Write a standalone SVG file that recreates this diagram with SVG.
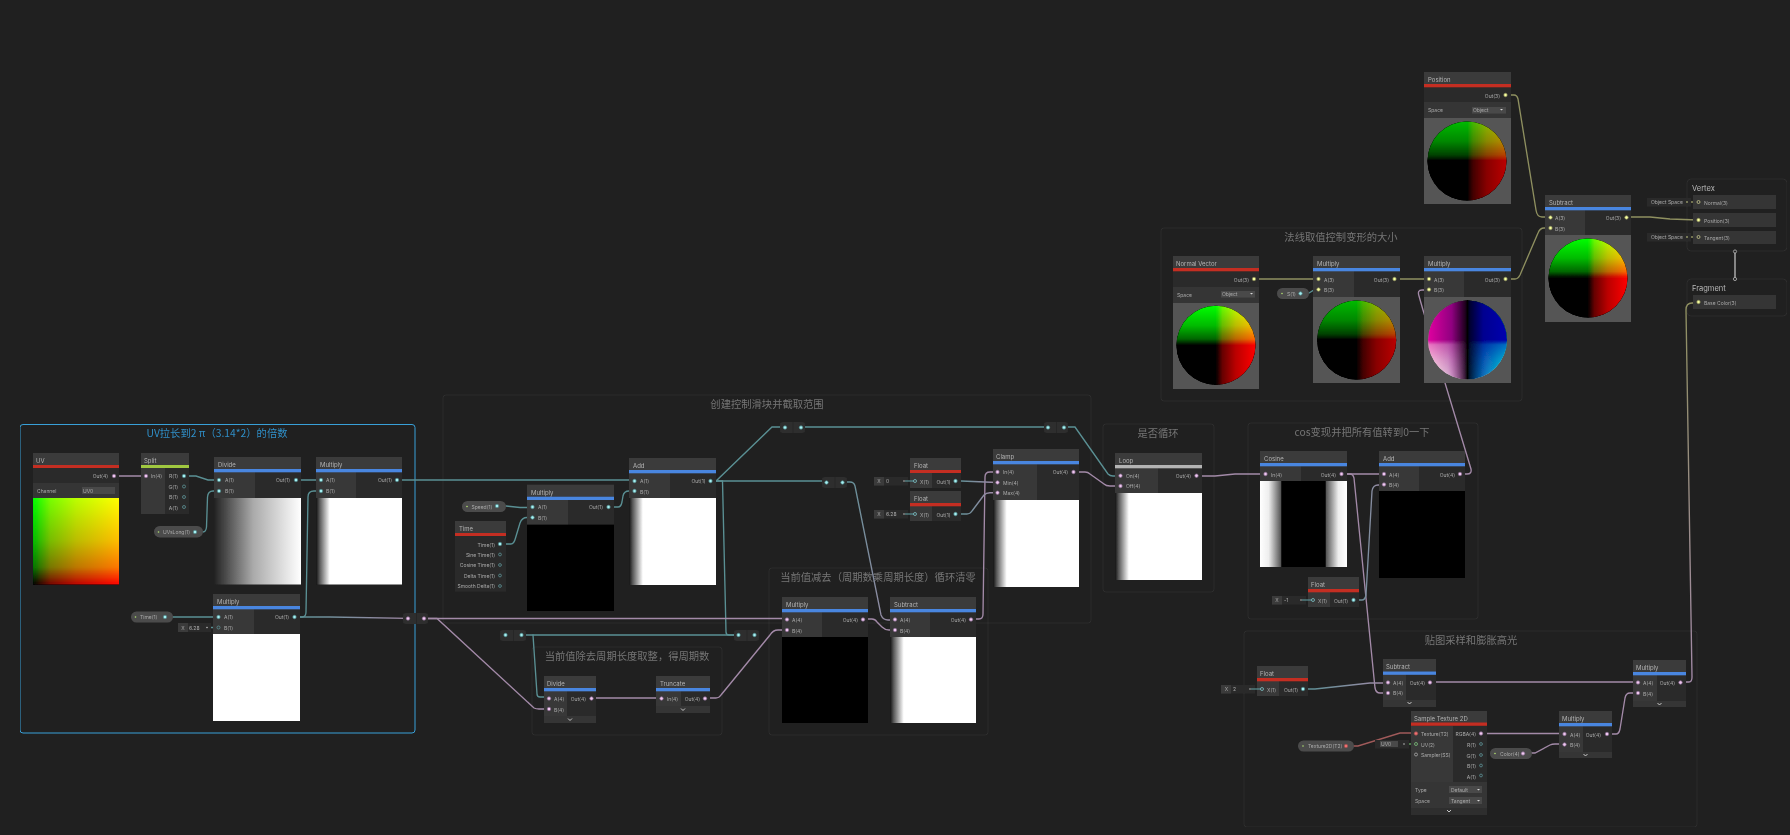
<svg xmlns="http://www.w3.org/2000/svg" width="1790" height="835" viewBox="0 0 1790 835">
<style>
text{font-family:Inter,"Liberation Sans","Noto Sans CJK SC",sans-serif;font-size:5px;fill:#a8a8a8}
.ti{font-size:6px;fill:#b4b4b4}
.gt{font-family:"Noto Sans CJK SC","Liberation Sans",sans-serif;font-size:10.3px;fill:#757575;text-anchor:middle}
.e{text-anchor:end}
.m{text-anchor:middle}
.st{font-size:7.5px;fill:#b8b8b8}
.g{fill:none;stroke:#2e2e2e;stroke-width:1}
.b{fill:#2c2c2c}.h{fill:#3a3a3a}.l{fill:#393939}.r{fill:#2e2e2e}.c{fill:#343434}
.bb{fill:#4a86e0}.br{fill:#c42d20}.bg{fill:#a0c840}.bw{fill:#b4b4b4}
.pl{fill:#4c4c4c}.dd{fill:#4a4a4a}.ib{fill:#2c2c2c}.ic{fill:#3a3a3a}
.pv{fill:#555}.w{fill:#fff}.k{fill:#000}
.p{stroke-width:.7}
.pt{fill:#a6f0f2;stroke:#4f8a8c}.pp{fill:#f0c8f0;stroke:#8e6f96}.po{fill:#f6ffa0;stroke:#8c8c57}.pr{fill:#f07070;stroke:#a05050}.pg{fill:#c0ffc0;stroke:#5a9a5a}
.o{fill:none;stroke-width:.8}
.x{fill:none;stroke:#d8d8d8;stroke-width:.9}
.d{fill:#d8d8d8}
#connectors path{fill:none;stroke-width:1.35;stroke-linecap:round}
.T{stroke:#5a9094}.P{stroke:#a38aa8}.O{stroke:#8f9060}.R{stroke:#a05a5a}.G{stroke:#5c9a5c}.W{stroke:#b8b8b8}
</style>
<defs>
<filter id="soft" x="0" y="0" width="1" height="1"><feGaussianBlur stdDeviation=".3"/></filter>
<linearGradient id="tp"><stop offset="0" stop-color="#5a9094"/><stop offset="1" stop-color="#a38aa8"/></linearGradient>
<linearGradient id="po" x1="0" y1="1" x2="0" y2="0"><stop offset="0" stop-color="#a38aa8"/><stop offset="1" stop-color="#8f9060"/></linearGradient>
<linearGradient id="edge"><stop offset="0" stop-color="#111"/><stop offset=".04" stop-color="#555"/><stop offset=".16" stop-color="#fff"/></linearGradient>
<linearGradient id="full"><stop offset="0" stop-color="#222"/><stop offset=".45" stop-color="#aaa"/><stop offset="1" stop-color="#fff"/></linearGradient>
<linearGradient id="cosg"><stop offset="0" stop-color="#fff"/><stop offset=".1" stop-color="#eee"/><stop offset=".24" stop-color="#555"/><stop offset=".25" stop-color="#000"/><stop offset=".75" stop-color="#000"/><stop offset=".76" stop-color="#555"/><stop offset=".9" stop-color="#eee"/><stop offset="1" stop-color="#fff"/></linearGradient>
<linearGradient id="uvg" x1="0" y1="0" x2="0" y2="1"><stop offset="0" stop-color="#0f0"/><stop offset=".5" stop-color="#0b0"/><stop offset=".8" stop-color="#070"/><stop offset="1" stop-color="#000"/></linearGradient>
<linearGradient id="uvr"><stop offset="0" stop-color="#000"/><stop offset=".2" stop-color="#700"/><stop offset=".5" stop-color="#b00"/><stop offset="1" stop-color="#f00"/></linearGradient>
<linearGradient id="sg" x1="0" y1="0" x2="0" y2="1"><stop offset="0" stop-color="#0f0"/><stop offset=".25" stop-color="#0b0"/><stop offset=".42" stop-color="#060"/><stop offset=".5" stop-color="#000"/></linearGradient>
<linearGradient id="sr"><stop offset=".5" stop-color="#000"/><stop offset=".58" stop-color="#600"/><stop offset=".75" stop-color="#b00"/><stop offset="1" stop-color="#f00"/></linearGradient>
<linearGradient id="sgd" x1="0" y1="0" x2="0" y2="1"><stop offset="0" stop-color="#0b0"/><stop offset=".25" stop-color="#080"/><stop offset=".42" stop-color="#040"/><stop offset=".5" stop-color="#000"/></linearGradient>
<linearGradient id="srd"><stop offset=".5" stop-color="#000"/><stop offset=".58" stop-color="#400"/><stop offset=".75" stop-color="#800"/><stop offset="1" stop-color="#b00"/></linearGradient>
<linearGradient id="ph"><stop offset="0" stop-color="#e000a0"/><stop offset=".3" stop-color="#900080"/><stop offset=".47" stop-color="#200020"/><stop offset=".5" stop-color="#000"/><stop offset=".53" stop-color="#000030"/><stop offset=".7" stop-color="#000090"/><stop offset="1" stop-color="#0000b0"/></linearGradient>
<linearGradient id="pv2" x1="0" y1="0" x2="0" y2="1"><stop offset=".5" stop-color="#000"/><stop offset=".56" stop-color="#777"/><stop offset=".75" stop-color="#bbb"/><stop offset="1" stop-color="#fff"/></linearGradient>
<linearGradient id="ph2"><stop offset="0" stop-color="#e8ffd0"/><stop offset=".25" stop-color="#a8b8a8"/><stop offset=".46" stop-color="#222"/><stop offset=".5" stop-color="#000"/><stop offset=".54" stop-color="#021"/><stop offset=".75" stop-color="#0a8a78"/><stop offset="1" stop-color="#00f090"/></linearGradient>
<g id="sB" style="isolation:isolate"><circle r="39.5" fill="#000"/><circle r="39.5" fill="url(#sg)"/><circle r="39.5" fill="url(#sr)" style="mix-blend-mode:screen"/></g>
<g id="sD" style="isolation:isolate"><circle r="39.5" fill="#000"/><circle r="39.5" fill="url(#sgd)"/><circle r="39.5" fill="url(#srd)" style="mix-blend-mode:screen"/></g>
<g id="sP" style="isolation:isolate"><circle r="39.5" fill="#000"/><circle r="39.5" fill="url(#ph)"/><g style="mix-blend-mode:screen;isolation:isolate"><circle r="39.5" fill="url(#pv2)"/><circle r="39.5" fill="url(#ph2)" style="mix-blend-mode:multiply"/></g></g>
</defs>
<rect width="1790" height="835" fill="#202020"/>
<g id="diagram" filter="url(#soft)">
<g id="groups">
<g id="group-uv"><rect x="20" y="424.5" width="395" height="308.5" rx="3" fill="none" stroke="#38a0d8" stroke-width="1"/><text class="gt" x="217" y="437" style="fill:#2f8fc8">UV拉长到2 π（3.14*2）的倍数</text></g>
<g id="group-slider"><rect class="g" x="443" y="395" width="648" height="228" rx="3"/><text class="gt" x="767" y="408">创建控制滑块并截取范围</text></g>
<g id="group-trunc"><rect class="g" x="532" y="647" width="190" height="88" rx="3"/><text class="gt" x="627" y="660">当前值除去周期长度取整，得周期数</text></g>
<g id="group-sub"><rect class="g" x="769" y="568" width="219" height="167" rx="3"/><text class="gt" x="878" y="581">当前值减去（周期数乘周期长度）循环清零</text></g>
<g id="group-loop"><rect class="g" x="1103" y="424" width="111" height="168" rx="3"/><text class="gt" x="1158" y="437">是否循环</text></g>
<g id="group-cos"><rect class="g" x="1248" y="423" width="230" height="196" rx="3"/><text class="gt" x="1362" y="436">cos变现并把所有值转到0一下</text></g>
<g id="group-tex"><rect class="g" x="1244" y="631" width="453" height="196" rx="3"/><text class="gt" x="1471" y="644">贴图采样和膨胀高光</text></g>
<g id="group-normal"><rect class="g" x="1161" y="228" width="361" height="173" rx="3"/><text class="gt" x="1341" y="241">法线取值控制变形的大小</text></g>
<g id="group-vertex"><rect class="g" x="1687" y="179" width="100" height="72" rx="4"/></g>
<g id="group-fragment"><rect class="g" x="1687" y="279" width="100" height="37" rx="4"/></g>
</g>

<g id="connectors">
<path class="P" d="M114 476H146"/>
<path class="T" d="M184 476H196L208 480H219"/>
<path class="T" d="M203 532Q206 532 206.500 527L207.500 497Q208 491 213 491H219"/>
<path class="T" d="M296 480H321"/>
<path class="T" d="M294 617H302Q306 617 306 612L308 497Q308 491 314 491H321"/>
<path stroke="url(#tp)" d="M294 617H330L408 618.300"/>
<path class="T" d="M165 617H218"/>
<path class="T" d="M211 627.500H218"/>
<path class="T" d="M397 480H634"/>
<path class="T" d="M506 506L520 507.500H532"/>
<path class="T" d="M506 544H511Q514 544 515.500 538L520 523Q522 517.500 527 517.500H532"/>
<path class="T" d="M612 507H618Q621 507 622 502L623 496Q624 491 629 491H634"/>
<path class="T" d="M711 481H716L772 427H785"/>
<path class="T" d="M801 427H1048"/>
<path class="T" d="M1064 427H1075L1108 474Q1110 476 1113 476H1120"/>
<path class="T" d="M711 481H826"/>
<path stroke="url(#tp)" d="M843 482H850Q854 482 855 486L881 615Q883 620 888 620H895"/>
<path class="T" d="M716 481H722.500L726 632Q726 635 729 635H738"/>
<path class="T" d="M521 635H738"/>
<path class="T" d="M533 635L537 694Q537 697 540 697H549"/>
<path class="P" d="M424 618.500H787"/>
<path class="P" d="M428 618.500H437L534 708Q536 709 539 709H549"/>
<path class="P" d="M591 698H661"/>
<path class="P" d="M705 698H716Q719 698 721 695L770 635Q773 630 778 630H787"/>
<path class="P" d="M863 619H872Q875 619 877 622L882 627Q885 630 889 630H895"/>
<path class="P" d="M971 619H979Q983 619 983 614L985 477Q985 472 990 472H997"/>
<path stroke="url(#tp)" d="M955 481H961L997 482.500"/>
<path stroke="url(#tp)" d="M955 514H967Q970 514 972 511L984 495Q986 492.700 990 492.700H997"/>
<path class="P" d="M1073 472H1085Q1088 472 1090 474L1104 484Q1106 486 1110 486H1120"/>
<path class="P" d="M1196 476H1215L1235 474H1265"/>
<path class="P" d="M1341 474H1384"/>
<path class="P" d="M1341 474H1350Q1353 474 1354 478L1375 688Q1376 693 1380 693H1388"/>
<path stroke="url(#tp)" d="M1353 600H1362Q1365 600 1366 595L1372 491Q1373 485 1378 485H1384"/>
<path class="P" d="M1460 474H1467Q1472 474 1471 469L1423 310L1419 296Q1417 290 1422 290H1429"/>
<path stroke="url(#tp)" d="M1303 689H1315L1370 683H1388"/>
<path class="P" d="M1430 682H1638"/>
<path stroke="url(#po)" d="M1680 682H1689Q1692 682 1692 677L1686 310Q1686 303 1692 303H1698"/>
<path class="R" d="M1346 746H1358L1400 733H1416"/>
<path class="G" d="M1404 744H1416"/>
<path class="P" d="M1481 733.500H1564"/>
<path class="P" d="M1523 753H1535L1550 745Q1552 744 1555 744H1564"/>
<path class="P" d="M1607 734H1616Q1619 734 1620 729L1625 698Q1626 693 1630 693H1638"/>
<path class="O" d="M1505 95H1514Q1517 95 1518 99L1536 210Q1537 217 1542 217H1550"/>
<path class="O" d="M1505 279H1515Q1518 279 1520 275L1538 233Q1540 228 1544 228H1550"/>
<path class="O" d="M1254 279H1318"/>
<path class="O" d="M1394 279H1429"/>
<path class="T" d="M1309 293L1314 290H1318"/>
<path class="O" d="M1626 217H1650L1670 219L1698 220"/>
<path class="O" d="M1686 202H1698"/>
<path class="O" d="M1686 237H1698"/>
<path class="W" d="M1735 251V279"/>
<circle cx="1735" cy="251.500" r="1.600" fill="#202020" stroke="#b8b8b8" stroke-width=".8"/>
<circle cx="1735" cy="279" r="1.600" fill="#202020" stroke="#b8b8b8" stroke-width=".8"/>
</g>

<g id="node-uv"><rect class="b" x="33" y="453" width="86" height="45"/><rect class="h" x="33" y="453" width="86" height="12"/><rect class="br" x="33" y="465" width="86" height="3"/><rect class="c" x="33" y="483" width="86" height="15"/><rect class="dd" x="82" y="487" width="33" height="7"/>
<text class="ti" x="36" y="463">UV</text><text class="e" x="108" y="478">Out(4)</text><text x="37" y="492.500">Channel</text><text x="83" y="492.500">UV0</text><circle class="p pp" cx="114" cy="476" r="1.700"/>
<rect x="33" y="498" width="86" height="86.500" fill="#000"/><g style="isolation:isolate"><rect x="33" y="498" width="86" height="86.500" fill="url(#uvg)"/><rect x="33" y="498" width="86" height="86.500" fill="url(#uvr)" style="mix-blend-mode:screen"/></g></g>

<g id="node-split"><rect class="b" x="141" y="453" width="48" height="61"/><rect class="l" x="141" y="468" width="24" height="46"/><rect class="h" x="141" y="453" width="48" height="12"/><rect class="bg" x="141" y="465" width="48" height="3"/>
<text class="ti" x="144" y="463">Split</text><text x="151" y="478">In(4)</text><text class="e" x="178" y="478">R(1)</text><text class="e" x="178" y="488.500">G(1)</text><text class="e" x="178" y="499">B(1)</text><text class="e" x="178" y="509.500">A(1)</text>
<circle class="p pp" cx="146" cy="476" r="1.700"/><circle class="p pt" cx="184" cy="476" r="1.700"/><circle class="o" stroke="#5a9094" cx="184" cy="486.500" r="1.500"/><circle class="o" stroke="#5a9094" cx="184" cy="497" r="1.500"/><circle class="o" stroke="#5a9094" cx="184" cy="507" r="1.500"/></g>

<g id="node-divide1"><rect class="b" x="214" y="457" width="87" height="41"/><rect class="l" x="214" y="472" width="41" height="26"/><rect class="h" x="214" y="457" width="87" height="12"/><rect class="bb" x="214" y="469" width="87" height="3.300"/>
<text class="ti" x="218" y="467">Divide</text><text x="225" y="482">A(1)</text><text x="225" y="492.500">B(1)</text><text class="e" x="290" y="482">Out(1)</text>
<circle class="p pt" cx="219" cy="480" r="1.700"/><circle class="p pt" cx="219" cy="491" r="1.700"/><circle class="p pt" cx="296" cy="480" r="1.700"/>
<rect x="214" y="498" width="87" height="86.500" fill="url(#full)"/></g>

<g id="node-multiply1"><rect class="b" x="316" y="457" width="86" height="41"/><rect class="l" x="316" y="472" width="40" height="26"/><rect class="h" x="316" y="457" width="86" height="12"/><rect class="bb" x="316" y="469" width="86" height="3.300"/>
<text class="ti" x="320" y="467">Multiply</text><text x="326" y="482">A(1)</text><text x="326" y="492.500">B(1)</text><text class="e" x="392" y="482">Out(1)</text>
<circle class="p pt" cx="321" cy="480" r="1.700"/><circle class="p pt" cx="321" cy="491" r="1.700"/><circle class="p pt" cx="397" cy="480" r="1.700"/>
<rect x="316" y="498" width="86" height="86.500" fill="url(#edge)"/></g>

<g id="node-multiply2"><rect class="b" x="213" y="594" width="87" height="40"/><rect class="l" x="213" y="609" width="41" height="25"/><rect class="h" x="213" y="594" width="87" height="12"/><rect class="bb" x="213" y="606" width="87" height="3.300"/>
<text class="ti" x="217" y="604">Multiply</text><text x="224" y="619">A(1)</text><text x="224" y="629.500">B(1)</text><text class="e" x="289" y="619">Out(1)</text>
<circle class="p pt" cx="218.500" cy="617" r="1.700"/><circle class="o" stroke="#5a9094" cx="218.500" cy="627.500" r="1.500"/><circle class="p pt" cx="294.500" cy="617" r="1.700"/>
<rect class="w" x="213" y="634" width="87" height="87"/></g>

<g id="prop-time"><rect class="pl" x="131" y="611.500" width="42" height="11" rx="5.500"/><circle cx="135.500" cy="617" r=".8" fill="#b0e070"/><text x="140" y="619">Time(1)</text><circle class="p pt" cx="165" cy="617" r="1.700"/></g>
<g id="value-628a"><rect class="ib" x="178" y="623" width="33" height="9"/><rect class="ic" x="178" y="623" width="10" height="9"/><text class="m" x="183" y="629.500">X</text><text x="189" y="629.500">6.28</text><circle class="d" cx="207" cy="627.500" r=".7"/></g>
<g id="prop-uvslong"><rect class="pl" x="154" y="526" width="49" height="11.500" rx="5.700"/><circle cx="158.500" cy="532" r=".8" fill="#b0e070"/><text x="163" y="534">UVsLong(1)</text><circle class="p pt" cx="195" cy="532" r="1.700"/></g>

<g id="reroute-mid"><rect class="r" x="403" y="613" width="25" height="11" rx="3"/><rect x="416" y="613" width="1" height="11" fill="#252525"/><circle class="p pp" cx="408" cy="618.500" r="1.700"/><circle class="p pp" cx="424" cy="618.500" r="1.700"/></g>

<g id="prop-speed"><rect class="pl" x="462" y="501" width="44" height="11" rx="5.500"/><circle cx="467" cy="506.500" r=".8" fill="#b0e070"/><text x="471.500" y="508.500">Speed(1)</text><circle class="p pt" cx="497" cy="506" r="1.700"/></g>
<g id="node-time"><rect class="b" x="455" y="521" width="51" height="70.700"/><rect class="h" x="455" y="521" width="51" height="12"/><rect class="br" x="455" y="533" width="51" height="3"/><text class="ti" x="459" y="531">Time</text>
<text class="e" x="495" y="546.500">Time(1)</text><text class="e" x="495" y="557">Sine Time(1)</text><text class="e" x="495" y="567">Cosine Time(1)</text><text class="e" x="495" y="577.500">Delta Time(1)</text><text class="e" x="495" y="588">Smooth Delta(1)</text>
<circle class="p pt" cx="500" cy="544" r="1.700"/><circle class="o" stroke="#5a9094" cx="500" cy="554.500" r="1.400"/><circle class="o" stroke="#5a9094" cx="500" cy="565" r="1.400"/><circle class="o" stroke="#5a9094" cx="500" cy="575.500" r="1.400"/><circle class="o" stroke="#5a9094" cx="500" cy="586" r="1.400"/></g>

<g id="node-multiply3"><rect class="b" x="527" y="484.700" width="87" height="40"/><rect class="l" x="527" y="499.700" width="41" height="25"/><rect class="h" x="527" y="484.700" width="87" height="12"/><rect class="bb" x="527" y="496.700" width="87" height="3.300"/>
<text class="ti" x="531" y="494.700">Multiply</text><text x="538" y="509">A(1)</text><text x="538" y="519.500">B(1)</text><text class="e" x="603" y="509">Out(1)</text>
<circle class="p pt" cx="532.500" cy="507" r="1.700"/><circle class="p pt" cx="532.500" cy="517.500" r="1.700"/><circle class="p pt" cx="608.500" cy="507" r="1.700"/>
<rect class="k" x="527" y="524.700" width="87" height="86.300"/></g>

<g id="node-add1"><rect class="b" x="629" y="458" width="87" height="40"/><rect class="l" x="629" y="473" width="41" height="25"/><rect class="h" x="629" y="458" width="87" height="12"/><rect class="bb" x="629" y="470" width="87" height="3.300"/>
<text class="ti" x="633" y="468">Add</text><text x="640" y="483">A(1)</text><text x="640" y="493.500">B(1)</text><text class="e" x="705.500" y="483">Out(1)</text>
<circle class="p pt" cx="634.500" cy="481" r="1.700"/><circle class="p pt" cx="634.500" cy="491" r="1.700"/><circle class="p pt" cx="710.500" cy="481" r="1.700"/>
<rect x="629" y="498" width="87" height="87" fill="url(#edge)"/></g>

<g id="reroute-1"><rect class="r" x="780" y="422" width="25" height="11" rx="3"/><rect x="792.500" y="422" width="1" height="11" fill="#252525"/><circle class="p pt" cx="785" cy="427.500" r="1.700"/><circle class="p pt" cx="801" cy="427.500" r="1.700"/></g>
<g id="reroute-2"><rect class="r" x="822" y="477" width="25" height="11" rx="3"/><rect x="834.500" y="477" width="1" height="11" fill="#252525"/><circle class="p pt" cx="826.500" cy="482.500" r="1.700"/><circle class="p pt" cx="842.500" cy="482.500" r="1.700"/></g>
<g id="reroute-3"><rect class="r" x="1044" y="422" width="24" height="11" rx="3"/><rect x="1056" y="422" width="1" height="11" fill="#252525"/><circle class="p pt" cx="1048" cy="427.500" r="1.700"/><circle class="p pt" cx="1064" cy="427.500" r="1.700"/></g>
<g id="reroute-4"><rect class="r" x="500" y="630" width="26" height="11" rx="3"/><rect x="513" y="630" width="1" height="11" fill="#252525"/><circle class="p pt" cx="505.500" cy="635" r="1.700"/><circle class="p pt" cx="521.500" cy="635" r="1.700"/></g>
<g id="reroute-5"><rect class="r" x="734" y="630" width="25" height="11" rx="3"/><rect x="746.500" y="630" width="1" height="11" fill="#252525"/><circle class="p pt" cx="738.500" cy="635" r="1.700"/><circle class="p pt" cx="754.500" cy="635" r="1.700"/></g>

<g id="node-float0"><rect class="b" x="910" y="458" width="51" height="30"/><rect class="l" x="910" y="473" width="22" height="15"/><rect class="h" x="910" y="458" width="51" height="12"/><rect class="br" x="910" y="470" width="51" height="3"/><text class="ti" x="914" y="468">Float</text><text x="920" y="483.500">X(1)</text><text class="e" x="950.500" y="483.500">Out(1)</text>
<rect class="ib" x="874" y="477" width="34" height="8.500"/><rect class="ic" x="874" y="477" width="10" height="8.500"/><text class="m" x="879" y="483">X</text><text x="886" y="483">0</text><circle class="d" cx="904" cy="481" r=".7"/><path class="T" d="M905 481H914" fill="none" stroke-width="1.200"/><circle class="o" stroke="#7ac0c4" cx="915" cy="481" r="1.500"/><circle class="p pt" cx="955.500" cy="481" r="1.700"/></g>
<g id="node-float628"><rect class="b" x="910" y="491" width="51" height="30"/><rect class="l" x="910" y="506" width="22" height="15"/><rect class="h" x="910" y="491" width="51" height="12"/><rect class="br" x="910" y="503" width="51" height="3.300"/><text class="ti" x="914" y="501">Float</text><text x="920" y="516.500">X(1)</text><text class="e" x="950.500" y="516.500">Out(1)</text>
<rect class="ib" x="874" y="510" width="34" height="8.500"/><rect class="ic" x="874" y="510" width="10" height="8.500"/><text class="m" x="879" y="516">X</text><text x="886" y="516">6.28</text><circle class="d" cx="904" cy="514" r=".7"/><path class="T" d="M905 514H914" fill="none" stroke-width="1.200"/><circle class="o" stroke="#7ac0c4" cx="915" cy="514" r="1.500"/><circle class="p pt" cx="955.500" cy="514" r="1.700"/></g>

<g id="node-clamp"><rect class="b" x="993" y="449" width="86" height="51"/><rect class="l" x="993" y="464" width="44" height="36"/><rect class="h" x="993" y="449" width="86" height="12"/><rect class="bb" x="993" y="461" width="86" height="3.300"/><text class="ti" x="996" y="459">Clamp</text>
<text x="1003" y="474">In(4)</text><text x="1003" y="484.500">Min(4)</text><text x="1003" y="495">Max(4)</text><text class="e" x="1068" y="474">Out(4)</text>
<circle class="p pp" cx="997.500" cy="472" r="1.700"/><circle class="p pp" cx="997.500" cy="482.500" r="1.700"/><circle class="p pp" cx="997.500" cy="492.700" r="1.700"/><circle class="p pp" cx="1073.500" cy="472" r="1.700"/>
<rect x="993" y="500" width="86" height="87" fill="url(#edge)"/></g>

<g id="node-loop"><rect class="b" x="1115" y="453" width="87" height="40"/><rect class="l" x="1115" y="468" width="43" height="25"/><rect class="h" x="1115" y="453" width="87" height="12"/><rect class="bw" x="1115" y="465" width="87" height="3.300"/><text class="ti" x="1119" y="463">Loop</text>
<text x="1126" y="478">On(4)</text><text x="1126" y="488">Off(4)</text><text class="e" x="1191" y="478">Out(4)</text>
<circle class="p pp" cx="1120.500" cy="475.700" r="1.700"/><circle class="p pp" cx="1120.500" cy="486" r="1.700"/><circle class="p pp" cx="1196.500" cy="475.700" r="1.700"/>
<rect x="1115" y="493" width="87" height="87" fill="url(#edge)"/></g>

<g id="node-cosine"><rect class="b" x="1260" y="451" width="87" height="30"/><rect class="l" x="1260" y="466" width="41" height="15"/><rect class="h" x="1260" y="451" width="87" height="12"/><rect class="bb" x="1260" y="463" width="87" height="3.300"/><text class="ti" x="1264" y="461">Cosine</text>
<text x="1271" y="476.500">In(4)</text><text class="e" x="1336" y="476.500">Out(4)</text><circle class="p pp" cx="1265.500" cy="474" r="1.700"/><circle class="p pp" cx="1341.500" cy="474" r="1.700"/>
<rect x="1260" y="481" width="87" height="86" fill="url(#cosg)"/></g>

<g id="node-add2"><rect class="b" x="1379" y="451" width="86" height="40"/><rect class="l" x="1379" y="466" width="40" height="25"/><rect class="h" x="1379" y="451" width="86" height="12"/><rect class="bb" x="1379" y="463" width="86" height="3.300"/><text class="ti" x="1383" y="461">Add</text>
<text x="1389" y="476.500">A(4)</text><text x="1389" y="487">B(4)</text><text class="e" x="1455" y="476.500">Out(4)</text><circle class="p pp" cx="1384" cy="474" r="1.700"/><circle class="p pp" cx="1384" cy="484.500" r="1.700"/><circle class="p pp" cx="1460" cy="474" r="1.700"/>
<rect class="k" x="1379" y="491" width="86" height="87"/></g>

<g id="node-float-1"><rect class="b" x="1308" y="577" width="51" height="30"/><rect class="l" x="1308" y="592" width="22" height="15"/><rect class="h" x="1308" y="577" width="51" height="12"/><rect class="br" x="1308" y="589" width="51" height="3.300"/><text class="ti" x="1311" y="587">Float</text><text x="1318" y="602.500">X(1)</text><text class="e" x="1348" y="602.500">Out(1)</text>
<rect class="ib" x="1272" y="596" width="34" height="8.500"/><rect class="ic" x="1272" y="596" width="10" height="8.500"/><text class="m" x="1277" y="602">X</text><text x="1284" y="602">-1</text><circle class="d" cx="1301" cy="600" r=".7"/><path class="T" d="M1302 600H1312" fill="none" stroke-width="1.200"/><circle class="o" stroke="#7ac0c4" cx="1313" cy="600" r="1.500"/><circle class="p pt" cx="1353.500" cy="600" r="1.700"/></g>

<g id="node-divide2"><rect class="b" x="544" y="676" width="52" height="47"/><rect class="l" x="544" y="691" width="23" height="25"/><rect class="h" x="544" y="676" width="52" height="12"/><rect class="bb" x="544" y="688" width="52" height="3.300"/><rect class="c" x="544" y="716" width="52" height="7"/><text class="ti" x="547" y="686">Divide</text>
<text x="554" y="701">A(4)</text><text x="554" y="711.500">B(4)</text><text class="e" x="586" y="701">Out(4)</text><circle class="p pp" cx="549" cy="698.500" r="1.700"/><circle class="p pp" cx="549" cy="709" r="1.700"/><circle class="p pp" cx="591.500" cy="698.500" r="1.700"/><path class="x" d="M568 718.500L570 720.500L572 718.500"/></g>

<g id="node-truncate"><rect class="b" x="656" y="676" width="54" height="37"/><rect class="l" x="656" y="691" width="25" height="15"/><rect class="h" x="656" y="676" width="54" height="12"/><rect class="bb" x="656" y="688" width="54" height="3.300"/><rect class="c" x="656" y="706" width="54" height="7"/><text class="ti" x="660" y="686">Truncate</text>
<text x="667" y="701">In(4)</text><text class="e" x="700" y="701">Out(4)</text><circle class="p pp" cx="661.500" cy="698.500" r="1.700"/><circle class="p pp" cx="705" cy="698.500" r="1.700"/><path class="x" d="M681 708.500L683 710.500L685 708.500"/></g>

<g id="node-multiply4"><rect class="b" x="782" y="597" width="86" height="40"/><rect class="l" x="782" y="612" width="40" height="25"/><rect class="h" x="782" y="597" width="86" height="12"/><rect class="bb" x="782" y="609" width="86" height="3.300"/><text class="ti" x="786" y="607">Multiply</text>
<text x="792" y="622">A(4)</text><text x="792" y="632.500">B(4)</text><text class="e" x="858" y="622">Out(4)</text><circle class="p pp" cx="787" cy="619.500" r="1.700"/><circle class="p pp" cx="787" cy="630" r="1.700"/><circle class="p pp" cx="863" cy="619.500" r="1.700"/>
<rect class="k" x="782" y="637" width="86" height="86"/></g>

<g id="node-subtract1"><rect class="b" x="890" y="597" width="86" height="40"/><rect class="l" x="890" y="612" width="40" height="25"/><rect class="h" x="890" y="597" width="86" height="12"/><rect class="bb" x="890" y="609" width="86" height="3.300"/><text class="ti" x="894" y="607">Subtract</text>
<text x="900" y="622">A(4)</text><text x="900" y="632.500">B(4)</text><text class="e" x="966" y="622">Out(4)</text><circle class="p pp" cx="895" cy="619.500" r="1.700"/><circle class="p pp" cx="895" cy="630" r="1.700"/><circle class="p pp" cx="971" cy="619.500" r="1.700"/>
<rect x="890" y="637" width="86" height="86" fill="url(#edge)"/></g>

<g id="node-float2"><rect class="b" x="1257" y="666" width="51" height="30"/><rect class="l" x="1257" y="681" width="22" height="15"/><rect class="h" x="1257" y="666" width="51" height="12"/><rect class="br" x="1257" y="678" width="51" height="3.300"/><text class="ti" x="1260" y="676">Float</text><text x="1267" y="691.500">X(1)</text><text class="e" x="1298" y="691.500">Out(1)</text>
<rect class="ib" x="1221" y="685" width="34" height="8.500"/><rect class="ic" x="1221" y="685" width="10" height="8.500"/><text class="m" x="1226.500" y="691">X</text><text x="1233" y="691">2</text><circle class="d" cx="1250" cy="689" r=".7"/><path class="T" d="M1251 689H1261" fill="none" stroke-width="1.200"/><circle class="o" stroke="#7ac0c4" cx="1262" cy="689" r="1.500"/><circle class="p pt" cx="1303" cy="689" r="1.700"/></g>

<g id="node-subtract2"><rect class="b" x="1383" y="659" width="53" height="48"/><rect class="l" x="1383" y="674" width="23" height="26"/><rect class="h" x="1383" y="659" width="53" height="12.500"/><rect class="bb" x="1383" y="671.500" width="53" height="3.300"/><rect class="c" x="1383" y="700" width="53" height="7"/><text class="ti" x="1386" y="669">Subtract</text>
<text x="1393" y="684.500">A(4)</text><text x="1393" y="695">B(4)</text><text class="e" x="1425" y="684.500">Out(4)</text><circle class="p pp" cx="1388" cy="682.500" r="1.700"/><circle class="p pp" cx="1388" cy="693" r="1.700"/><circle class="p pp" cx="1430" cy="682.500" r="1.700"/><path class="x" d="M1407.500 702L1409.500 704L1411.500 702"/></g>

<g id="node-sample"><rect class="b" x="1411" y="711" width="76" height="104"/><rect class="l" x="1411" y="726" width="42" height="56"/><rect class="h" x="1411" y="711" width="76" height="12"/><rect class="br" x="1411" y="722.500" width="76" height="3.300"/><rect class="c" x="1411" y="782" width="76" height="26"/><rect x="1411" y="808" width="76" height="7" fill="#2e2e2e"/><text class="ti" x="1414" y="721">Sample Texture 2D</text>
<text x="1421" y="736">Texture(T2)</text><text x="1421" y="746.500">UV(2)</text><text x="1421" y="757">Sampler(SS)</text><text class="e" x="1476" y="736">RGBA(4)</text><text class="e" x="1476" y="746.500">R(1)</text><text class="e" x="1476" y="757.500">G(1)</text><text class="e" x="1476" y="768">B(1)</text><text class="e" x="1476" y="778.500">A(1)</text>
<circle class="p pr" cx="1416" cy="733.500" r="1.700"/><circle class="o" stroke="#7ac07a" cx="1416" cy="744" r="1.500"/><circle class="o" stroke="#aaa" cx="1416" cy="754.500" r="1.500"/><circle class="p pp" cx="1481" cy="733.500" r="1.700"/><circle class="o" stroke="#5a9094" cx="1481" cy="744" r="1.400"/><circle class="o" stroke="#5a9094" cx="1481" cy="755" r="1.400"/><circle class="o" stroke="#5a9094" cx="1481" cy="765.500" r="1.400"/><circle class="o" stroke="#5a9094" cx="1481" cy="775.500" r="1.400"/>
<text x="1415" y="791.500">Type</text><rect class="dd" x="1449" y="786" width="33" height="7"/><text x="1451" y="791.500">Default</text><path class="d" d="M1477 789h3l-1.500 1.500z"/><text x="1415" y="803">Space</text><rect class="dd" x="1449" y="797" width="33" height="7"/><text x="1451" y="802.500">Tangent</text><path class="d" d="M1477 800h3l-1.500 1.500z"/><path class="x" d="M1447 810L1449 812L1451 810"/></g>

<g id="prop-texture"><rect class="pl" x="1298" y="740.500" width="56" height="11" rx="5.500"/><circle cx="1303" cy="746" r=".8" fill="#b0e070"/><text x="1308" y="748">Texture2D(T2)</text><circle class="p pr" cx="1346" cy="746" r="1.700"/></g>
<g id="value-uv0"><rect class="ib" x="1375" y="740" width="34" height="8.500"/><rect class="dd" x="1380" y="741" width="18" height="6"/><text x="1381" y="746">UV0</text><circle class="d" cx="1404" cy="744" r=".7"/></g>
<g id="prop-color"><rect class="pl" x="1490" y="748" width="42" height="11" rx="5.500"/><circle cx="1495" cy="753.500" r=".8" fill="#b0e070"/><text x="1500" y="755.500">Color(4)</text><circle class="p pp" cx="1523" cy="753.500" r="1.700"/></g>

<g id="node-multiply5"><rect class="b" x="1559" y="711" width="53" height="47"/><rect class="l" x="1559" y="726" width="24" height="26"/><rect class="h" x="1559" y="711" width="53" height="12"/><rect class="bb" x="1559" y="723" width="53" height="3.300"/><rect class="c" x="1559" y="752" width="53" height="6"/><text class="ti" x="1562" y="721">Multiply</text>
<text x="1570" y="736.500">A(4)</text><text x="1570" y="746.500">B(4)</text><text class="e" x="1601" y="736.500">Out(4)</text><circle class="p pp" cx="1564.500" cy="734" r="1.700"/><circle class="p pp" cx="1564.500" cy="744.500" r="1.700"/><circle class="p pp" cx="1607" cy="734" r="1.700"/><path class="x" d="M1583.500 754L1585.500 756L1587.500 754"/></g>

<g id="node-multiply6"><rect class="b" x="1633" y="660" width="53" height="47"/><rect class="l" x="1633" y="675" width="24" height="26"/><rect class="h" x="1633" y="660" width="53" height="12"/><rect class="bb" x="1633" y="672" width="53" height="3.300"/><rect class="c" x="1633" y="701" width="53" height="6"/><text class="ti" x="1636" y="670">Multiply</text>
<text x="1643" y="685">A(4)</text><text x="1643" y="695.500">B(4)</text><text class="e" x="1675" y="685">Out(4)</text><circle class="p pp" cx="1638" cy="682.500" r="1.700"/><circle class="p pp" cx="1638" cy="693" r="1.700"/><circle class="p pp" cx="1680.500" cy="682.500" r="1.700"/><path class="x" d="M1657.500 703L1659.500 705L1661.500 703"/></g>

<g id="node-position"><rect class="b" x="1424" y="72" width="87" height="46"/><rect class="h" x="1424" y="72" width="87" height="12"/><rect class="br" x="1424" y="84" width="87" height="3.300"/><rect class="c" x="1424" y="102" width="87" height="16"/><text class="ti" x="1428" y="82">Position</text><text class="e" x="1500" y="97.500">Out(3)</text><circle class="p po" cx="1505.500" cy="95" r="1.700"/>
<text x="1428" y="112">Space</text><rect class="dd" x="1472" y="107" width="34" height="6.500"/><text x="1473" y="112">Object</text><path class="d" d="M1500 109h3l-1.500 1.500z"/>
<rect class="pv" x="1424" y="118" width="87" height="86"/><use href="#sD" x="1467" y="161"/></g>

<g id="node-normal"><rect class="b" x="1173" y="256" width="86" height="47"/><rect class="h" x="1173" y="256" width="86" height="12"/><rect class="br" x="1173" y="268" width="86" height="3.300"/><rect class="c" x="1173" y="287" width="86" height="16"/><text class="ti" x="1176" y="266">Normal Vector</text><text class="e" x="1249" y="281.500">Out(3)</text><circle class="p po" cx="1254" cy="279" r="1.700"/>
<text x="1177" y="296.500">Space</text><rect class="dd" x="1221" y="291" width="34" height="6.500"/><text x="1222" y="296">Object</text><path class="d" d="M1250 293h3l-1.500 1.500z"/>
<rect class="pv" x="1173" y="303" width="86" height="86"/><use href="#sB" x="1216" y="345.300"/></g>

<g id="node-multiply7"><rect class="b" x="1313" y="256" width="87" height="41"/><rect class="l" x="1313" y="271" width="41" height="26"/><rect class="h" x="1313" y="256" width="87" height="12"/><rect class="bb" x="1313" y="268" width="87" height="3.300"/><text class="ti" x="1317" y="266">Multiply</text>
<text x="1324" y="281.500">A(3)</text><text x="1324" y="292">B(3)</text><text class="e" x="1389" y="281.500">Out(3)</text><circle class="p po" cx="1318.500" cy="279" r="1.700"/><circle class="p po" cx="1318.500" cy="289.500" r="1.700"/><circle class="p po" cx="1394.500" cy="279" r="1.700"/>
<rect class="pv" x="1313" y="297" width="87" height="86"/><use href="#sD" x="1356.700" y="340"/></g>

<g id="prop-s"><rect class="pl" x="1277" y="288" width="32" height="11" rx="5.500"/><circle cx="1282" cy="293.500" r=".8" fill="#b0e070"/><text x="1287" y="295.500">S(1)</text><circle class="p pt" cx="1300.500" cy="293.500" r="1.700"/></g>

<g id="node-multiply8"><rect class="b" x="1424" y="256" width="87" height="41"/><rect class="l" x="1424" y="271" width="40" height="26"/><rect class="h" x="1424" y="256" width="87" height="12"/><rect class="bb" x="1424" y="268" width="87" height="3.300"/><text class="ti" x="1428" y="266">Multiply</text>
<text x="1434" y="281.500">A(3)</text><text x="1434" y="292">B(3)</text><text class="e" x="1500" y="281.500">Out(3)</text><circle class="p po" cx="1429" cy="279" r="1.700"/><circle class="p po" cx="1429" cy="289.500" r="1.700"/><circle class="p po" cx="1505.500" cy="279" r="1.700"/>
<rect class="pv" x="1424" y="297" width="87" height="86"/><use href="#sP" x="1467.500" y="340"/></g>

<g id="node-subtract3"><rect class="b" x="1545" y="195" width="86" height="40"/><rect class="l" x="1545" y="210" width="40" height="25"/><rect class="h" x="1545" y="195" width="86" height="12"/><rect class="bb" x="1545" y="207" width="86" height="3.300"/><text class="ti" x="1549" y="205">Subtract</text>
<text x="1555" y="220">A(3)</text><text x="1555" y="230.500">B(3)</text><text class="e" x="1621" y="220">Out(3)</text><circle class="p po" cx="1550.500" cy="217.500" r="1.700"/><circle class="p po" cx="1550.500" cy="228" r="1.700"/><circle class="p po" cx="1626.500" cy="217.500" r="1.700"/>
<rect class="pv" x="1545" y="235" width="86" height="87"/><use href="#sB" x="1588" y="278"/></g>

<g id="node-vertex"><text class="st" x="1692" y="190.500">Vertex</text>
<rect class="c" x="1693" y="195" width="83" height="14"/><rect class="c" x="1693" y="213" width="83" height="14"/><rect class="c" x="1693" y="231" width="83" height="13"/>
<text x="1704" y="204.500">Normal(3)</text><text x="1704" y="222.500">Position(3)</text><text x="1704" y="240">Tangent(3)</text>
<circle class="o" stroke="#c8c890" cx="1698.500" cy="202" r="1.500"/><circle class="p po" cx="1698.500" cy="220" r="1.700"/><circle class="o" stroke="#c8c890" cx="1698.500" cy="237" r="1.500"/>
<rect class="ib" x="1647" y="198" width="44" height="8.500"/><text x="1651" y="204">Object Space</text><circle fill="#f6ffa0" cx="1687" cy="202" r=".7"/>
<rect class="ib" x="1647" y="233" width="44" height="8.500"/><text x="1651" y="239">Object Space</text><circle fill="#f6ffa0" cx="1687" cy="237" r=".7"/></g>

<g id="node-fragment"><text class="st" x="1692" y="290.500">Fragment</text><rect class="c" x="1693" y="295" width="83" height="14"/><text x="1704" y="304.500">Base Color(3)</text><circle class="p po" cx="1698.500" cy="302" r="1.700"/></g>
</g>
</svg>
